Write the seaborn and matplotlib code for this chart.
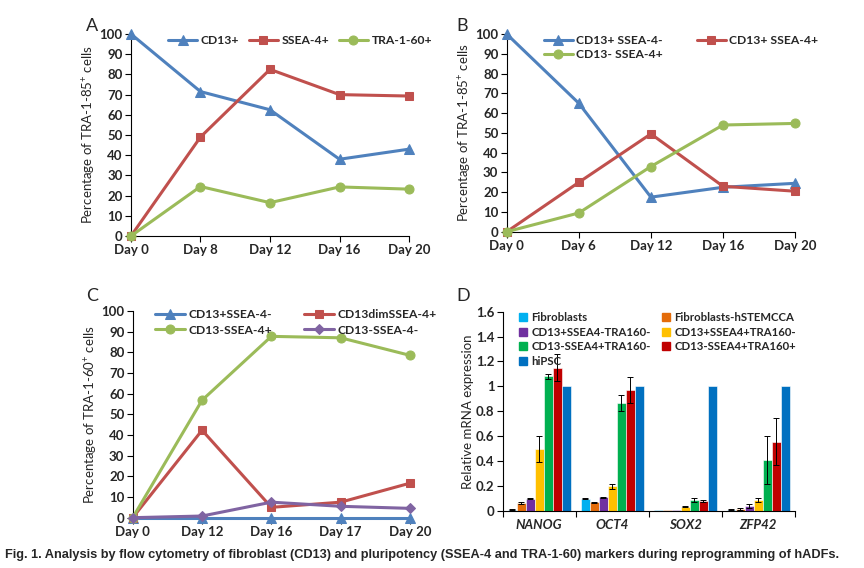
import numpy as np
import pandas as pd
import matplotlib
matplotlib.use("Agg")
import matplotlib.pyplot as plt
import seaborn as sns
from matplotlib.ticker import FuncFormatter, FixedLocator
from matplotlib.patches import Patch

# ---------------- data ----------------
days_a = ["Day 0", "Day 8", "Day 12", "Day 16", "Day 20"]
a_cd13 = [100, 71.5, 62.5, 38, 43]
a_ssea4 = [0, 49, 82.5, 70, 69.3]
a_tra160 = [0, 24.5, 16.5, 24.3, 23.2]

days_b = ["Day 0", "Day 6", "Day 12", "Day 16", "Day 20"]
b_cd13p_ssea4n = [100, 65, 17.5, 22.5, 24.5]
b_cd13p_ssea4p = [0, 25, 49.5, 23, 20.5]
b_cd13n_ssea4p = [0, 9.5, 33, 54, 54.8]

days_c = ["Day 0", "Day 12", "Day 16", "Day 17", "Day 20"]
c_cd13p_ssea4n = [0, 0, 0, 0, 0]
c_cd13dim_ssea4p = [0, 42.3, 5, 7.5, 16.7]
c_cd13n_ssea4p = [0, 56.8, 87.7, 87, 78.5]
c_cd13n_ssea4n = [0, 0.8, 7.5, 5.5, 4.5]

genes = ["NANOG", "OCT4", "SOX2", "ZFP42"]
groups = ["Fibroblasts", "Fibroblasts-hSTEMCCA", "CD13+SSEA4-TRA160-",
          "CD13+SSEA4+TRA160-", "CD13-SSEA4+TRA160-", "CD13-SSEA4+TRA160+", "hiPSC"]
d_values = {
    "Fibroblasts":          [0.01, 0.10, 0.005, 0.01],
    "Fibroblasts-hSTEMCCA": [0.065, 0.07, 0.005, 0.015],
    "CD13+SSEA4-TRA160-":   [0.10, 0.11, 0.005, 0.04],
    "CD13+SSEA4+TRA160-":   [0.50, 0.20, 0.035, 0.09],
    "CD13-SSEA4+TRA160-":   [1.08, 0.865, 0.09, 0.41],
    "CD13-SSEA4+TRA160+":   [1.15, 0.97, 0.08, 0.555],
    "hiPSC":                [1.0, 1.0, 1.0, 1.0],
}
d_errors = {
    "Fibroblasts":          [0.002, 0.005, 0.0, 0.003],
    "Fibroblasts-hSTEMCCA": [0.01, 0.005, 0.0, 0.005],
    "CD13+SSEA4-TRA160-":   [0.005, 0.005, 0.0, 0.015],
    "CD13+SSEA4+TRA160-":   [0.105, 0.02, 0.005, 0.015],
    "CD13-SSEA4+TRA160-":   [0.02, 0.065, 0.015, 0.195],
    "CD13-SSEA4+TRA160+":   [0.11, 0.105, 0.005, 0.19],
    "hiPSC":                [0.0, 0.0, 0.0, 0.0],
}

# ---------------- style ----------------
sns.set_theme(style="ticks")
plt.rcParams["font.family"] = ["Lato", "DejaVu Sans"]
plt.rcParams["mathtext.fontset"] = "custom"
plt.rcParams["mathtext.rm"] = "Lato"

TICK_FS = 9.5
LEG_FS = 8.7
LEG_D_FS = 8.2
YLAB_FS = 9.5

BLUE = "#4F81BD"
RED = "#C0504D"
GREEN = "#9BBB59"
PURPLE = "#8064A2"
bar_colors = ["#00B0F0", "#E46C0A", "#7030A0", "#FFC000", "#00B050", "#C00000", "#0070C0"]

fig = plt.figure(figsize=(8.64, 5.68), dpi=100)

axA = fig.add_axes([0.1516, 0.5845, 0.3218, 0.3556])
axB = fig.add_axes([0.5865, 0.592, 0.3337, 0.348])
axC = fig.add_axes([0.1536, 0.0886, 0.321, 0.364])
axD = fig.add_axes([0.5818, 0.1004, 0.338, 0.351])


def style_line_axis(ax, labels, ylabel):
    ax.set_xlim(0, 4)
    ax.set_ylim(0, 100)
    ax.set_yticks(np.arange(0, 101, 10))
    ax.set_xticks(range(5))
    ax.set_xticklabels(labels, fontweight="bold", fontsize=TICK_FS)
    for t in ax.get_yticklabels():
        t.set_fontweight("bold")
        t.set_fontsize(TICK_FS)
    ax.set_ylabel(ylabel, fontsize=YLAB_FS, labelpad=1)
    ax.set_xlabel("")
    for s in ["top", "right"]:
        ax.spines[s].set_visible(False)
    for s in ["left", "bottom"]:
        ax.spines[s].set_color("black")
        ax.spines[s].set_linewidth(0.8)
    ax.tick_params(axis="both", length=4, width=0.8, color="black", pad=2)


def draw_line(ax, vals, color, marker, ms=6):
    x = np.arange(len(vals))
    sns.lineplot(x=x, y=vals, color=color, marker=marker, markersize=ms,
                 markeredgecolor=color, linewidth=2.2, ax=ax, legend=False,
                 clip_on=False, zorder=3)
    return ax.lines[-1]


leg_prop = {"weight": "bold", "size": LEG_FS}

# Panel A
hA = [draw_line(axA, a_cd13, BLUE, "^", 7),
      draw_line(axA, a_ssea4, RED, "s", 5.5),
      draw_line(axA, a_tra160, GREEN, "o", 6.5)]
style_line_axis(axA, days_a, "Percentage of TRA-1-85$^{+}$ cells")
axA.legend(hA, ["CD13+", "SSEA-4+", "TRA-1-60+"], ncol=3, frameon=False,
           loc="upper left", bbox_to_anchor=(0.095, 1.05), handlelength=2.4,
           columnspacing=0.8, handletextpad=0.3, prop=leg_prop)

# Panel B
hB = [draw_line(axB, b_cd13p_ssea4n, BLUE, "^", 7),
      draw_line(axB, b_cd13p_ssea4p, RED, "s", 5.5),
      draw_line(axB, b_cd13n_ssea4p, GREEN, "o", 6.5)]
style_line_axis(axB, days_b, "Percentage of TRA-1-85$^{+}$ cells")
labB = ["CD13+ SSEA-4-", "CD13+ SSEA-4+", "CD13- SSEA-4+"]
axB.legend([hB[0], hB[2], hB[1]], [labB[0], labB[2], labB[1]], ncol=2, frameon=False,
           loc="upper left", bbox_to_anchor=(0.09, 1.05), handlelength=2.4,
           columnspacing=2.8, handletextpad=0.3, labelspacing=0.25, prop=leg_prop)

# Panel C
hC = [draw_line(axC, c_cd13p_ssea4n, BLUE, "^", 7),
      draw_line(axC, c_cd13dim_ssea4p, RED, "s", 5.5),
      draw_line(axC, c_cd13n_ssea4p, GREEN, "o", 6.5),
      draw_line(axC, c_cd13n_ssea4n, PURPLE, "D", 5)]
style_line_axis(axC, days_c, "Percentage of TRA-1-60$^{+}$ cells")
labC = ["CD13+SSEA-4-", "CD13dimSSEA-4+", "CD13-SSEA-4+", "CD13-SSEA-4-"]
axC.legend([hC[0], hC[2], hC[1], hC[3]], [labC[0], labC[2], labC[1], labC[3]], ncol=2,
           frameon=False, loc="upper left", bbox_to_anchor=(0.04, 1.06), handlelength=2.5,
           columnspacing=2.6, handletextpad=0.3, labelspacing=0.35, prop=leg_prop)

# Panel D
rows = []
for g in groups:
    for gene, v in zip(genes, d_values[g]):
        rows.append({"gene": gene, "group": g, "value": v})
df = pd.DataFrame(rows)
sns.barplot(data=df, x="gene", y="value", hue="group", hue_order=groups, order=genes,
            palette=bar_colors, ax=axD, width=0.86, edgecolor="white", linewidth=0.4,
            errorbar=None, legend=False, saturation=1)
for cont, g in zip(axD.containers, groups):
    for bar, e in zip(cont, d_errors[g]):
        if e > 0:
            xc = bar.get_x() + bar.get_width() / 2
            axD.errorbar(xc, bar.get_height(), yerr=e, color="black", capsize=2,
                         elinewidth=0.7, capthick=0.7, zorder=4)
axD.set_xlim(-0.5, 3.5)
axD.set_ylim(0, 1.6)
axD.set_yticks(np.arange(0, 1.61, 0.2))
axD.yaxis.set_major_formatter(FuncFormatter(lambda v, p: "%g" % round(v, 1)))
axD.set_xticks(range(4))
axD.set_xticklabels(genes, fontweight="bold", fontstyle="italic", fontsize=TICK_FS)
axD.xaxis.set_minor_locator(FixedLocator([-0.5, 0.5, 1.5, 2.5, 3.5]))
axD.tick_params(axis="x", which="major", length=0, pad=6)
axD.tick_params(axis="x", which="minor", length=4, width=0.8, color="black")
axD.tick_params(axis="y", length=4, width=0.8, color="black", pad=2)
for t in axD.get_yticklabels():
    t.set_fontweight("bold")
    t.set_fontsize(TICK_FS)
axD.set_xlabel("")
axD.set_ylabel("Relative mRNA expression", fontsize=YLAB_FS, labelpad=1)
for s in ["top", "right"]:
    axD.spines[s].set_visible(False)
for s in ["left", "bottom"]:
    axD.spines[s].set_color("black")
    axD.spines[s].set_linewidth(0.8)
handlesD = [Patch(facecolor=c, edgecolor=c) for c in bar_colors]
orderD = [0, 2, 4, 6, 1, 3, 5]
axD.legend([handlesD[i] for i in orderD], [groups[i] for i in orderD], ncol=2,
           frameon=False, loc="upper left", bbox_to_anchor=(0.02, 1.05),
           handlelength=0.7, handleheight=0.7, handletextpad=0.4, columnspacing=1.0,
           labelspacing=0.32, prop={"weight": "bold", "size": LEG_D_FS})

# panel letters
fig.text(0.100, 0.955, "A", fontsize=13, ha="left", va="center")
fig.text(0.528, 0.955, "B", fontsize=13, ha="left", va="center")
fig.text(0.100, 0.478, "C", fontsize=13, ha="left", va="center")
fig.text(0.528, 0.478, "D", fontsize=13, ha="left", va="center")

fig.text(0.006, 0.023,
         "Fig. 1. Analysis by flow cytometry of fibroblast (CD13) and pluripotency (SSEA-4 and TRA-1-60) markers during reprogramming of hADFs.",
         fontsize=9.15, fontweight="bold", family=["Liberation Sans", "DejaVu Sans"],
         ha="left", va="center")

fig.savefig("out.png", dpi=100, facecolor="white")
